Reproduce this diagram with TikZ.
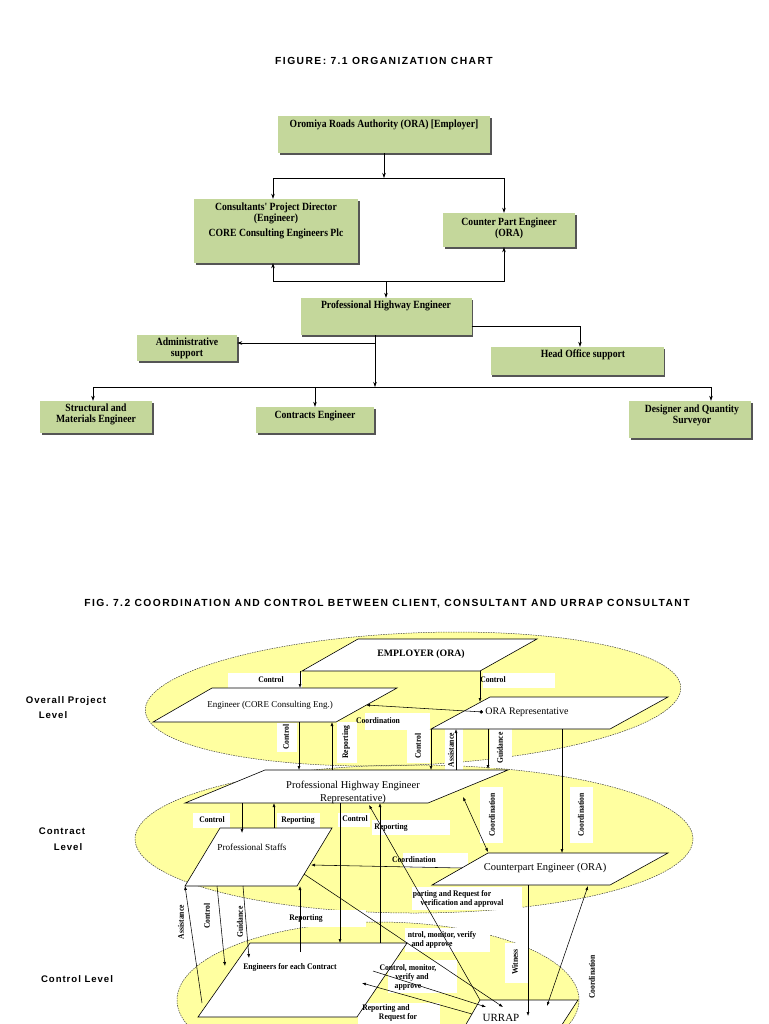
\documentclass[tikz,border=0pt]{standalone}
\usepackage{fontspec}
\setmainfont{Liberation Serif}
\newfontfamily\serifc[FakeStretch=0.88]{Liberation Serif}
\newfontfamily\seriflab[FakeStretch=0.9]{Liberation Serif}
\newfontfamily\serifn{Liberation Serif}
\newfontfamily\titlefont[LetterSpace=14]{Liberation Sans}
\newfontfamily\lvlfont[LetterSpace=10]{Liberation Sans}
\usetikzlibrary{arrows.meta,shadows}
\definecolor{boxgreen}{RGB}{196,215,155}
\definecolor{ellyellow}{RGB}{255,255,160}
\definecolor{shadowc}{RGB}{85,85,85}
\tikzset{
  gbox/.style={fill=boxgreen, draw=none, inner sep=0pt,
    drop shadow={shadow xshift=1.6pt, shadow yshift=-1.6pt, fill=shadowc, opacity=1}},
  ctext/.style={font=\serifc\bfseries\fontsize{11}{11}\selectfont, align=center, inner sep=0pt},
  ttl/.style={font=\titlefont\bfseries\fontsize{10.3}{12}\selectfont, inner sep=0pt},
  lvl/.style={font=\lvlfont\bfseries\fontsize{9.6}{15.5}\selectfont, inner sep=0pt, align=center},
  arr/.style={-{Stealth[length=5pt,width=3.5pt]}, line width=0.6pt},
  ar/.style={-{Latex[length=4pt,width=3pt]}, line width=0.55pt},
  dar/.style={{Latex[length=4pt,width=3pt]}-{Latex[length=4pt,width=3pt]}, line width=0.55pt},
  lbl/.style={font=\seriflab\bfseries\fontsize{8.5}{9}\selectfont, inner sep=0pt},
  vlbl/.style={lbl, rotate=90},
  para/.style={fill=white, draw=black, line width=0.6pt},
  ptext/.style={font=\serifn\fontsize{10}{12}\selectfont, inner sep=0pt, align=center},
  ell/.style={fill=ellyellow},
  elline/.style={draw=black!75, line width=0.5pt, dash pattern=on 1.5pt off 1pt},
}
\begin{document}
\begin{tikzpicture}[x=1pt,y=-1pt]
\useasboundingbox (0,0) rectangle (768,1024);
\fill[white] (0,0) rectangle (768,1024);
\clip (0,0) rectangle (768,1024);

%% ================= FIGURE 7.1 =================
\node[ttl] (t1) at (384,61) {FIGURE: 7.1 ORGANIZATION CHART};

\node[gbox, minimum width=212pt, minimum height=37pt] (ora) at (384,134.5) {};
\node[gbox, minimum width=164pt, minimum height=64pt] (cons) at (276,231) {};
\node[gbox, minimum width=132pt, minimum height=34pt] (cpe) at (509,230) {};
\node[gbox, minimum width=171pt, minimum height=37pt] (phe) at (386,316.5) {};
\node[gbox, minimum width=173pt, minimum height=28pt] (ho) at (577,361) {};
\node[gbox, minimum width=100pt, minimum height=26pt] (adm) at (187,348) {};
\node[gbox, minimum width=112pt, minimum height=32pt] (str) at (96,417) {};
\node[gbox, minimum width=118pt, minimum height=26pt] (con) at (315,420) {};
\node[gbox, minimum width=122pt, minimum height=37pt] (des) at (690,419.5) {};

\node[ctext] (oraT) at (384,125) {Oromiya Roads Authority (ORA) [Employer]};
\node[ctext] (consT) at (276,213.5) {Consultants' Project Director\\(Engineer)};
\node[ctext] (consT2) at (276,234) {CORE Consulting Engineers Plc};
\node[ctext] (cpeT) at (509,228) {Counter Part Engineer\\(ORA)};
\node[ctext] (pheT) at (386,306) {Professional Highway Engineer};
\node[ctext] (hoT) at (583,355) {Head Office support};
\node[ctext] (admT) at (187,348) {Administrative\\support};
\node[ctext] (strT) at (96,414.5) {Structural and\\Materials Engineer};
\node[ctext] (conT) at (315,416) {Contracts Engineer};
\node[ctext] (desT) at (692,415.5) {Designer and Quantity\\Surveyor};

\coordinate (j1) at (384,178);
\coordinate (j2) at (386,281);
\coordinate (j3) at (375,387);
\coordinate (j4) at (375,343);
\draw[arr] (ora.south) -- (j1);
\draw[arr] (j1) -| ([xshift=-3pt]cons.north);
\draw[arr] (j1) -| ([xshift=-5pt]cpe.north);
\draw[arr] (j2) -- (phe.north);
\draw[arr] (j2) -| ([xshift=-3pt]cons.south);
\draw[arr] (j2) -| ([xshift=-5pt]cpe.south);
\draw[arr] ([yshift=-10pt]phe.east) -| ([xshift=3pt]ho.north);
\draw[arr] ([xshift=-11pt]phe.south) -- (j3);
\draw[arr] (j4) -- (adm.east |- j4);
\draw[line width=0.6pt] ([xshift=-3pt]str.north |- j3) -- ([xshift=21pt]des.north |- j3);
\draw[arr] ([xshift=-3pt]str.north |- j3) -- ([xshift=-3pt]str.north);
\draw[arr] (con.north |- j3) -- (con.north);
\draw[arr] ([xshift=21pt]des.north |- j3) -- ([xshift=21pt]des.north);

%% ================= FIGURE 7.2 =================
\node[ttl] (t2) at (387,604) {FIG. 7.2 COORDINATION AND CONTROL BETWEEN CLIENT, CONSULTANT AND URRAP CONSULTANT};

\node[lvl] (lv1) at (66,707.5) {Overall Project\\\hspace*{-26pt}Level};
\node[lvl] (lv2) at (62,839) {Contract\\\hspace*{12pt}Level};
\node[lvl] (lv3) at (77,979) {Control Level};

% ellipses
\fill[ell, rotate around={2.5:(413,699)}] (413,699) ellipse [x radius=268pt, y radius=66pt];
\fill[ell] (414,839) ellipse [x radius=279pt, y radius=74pt];
\fill[ell] (378,1000) ellipse [x radius=201pt, y radius=78pt];
\draw[elline, rotate around={2.5:(413,699)}] (413,699) ellipse [x radius=268pt, y radius=66pt];
\draw[elline] (414,839) ellipse [x radius=279pt, y radius=74pt];
\draw[elline] (378,1000) ellipse [x radius=201pt, y radius=78pt];

% white label boxes
\fill[white] (228,673) rectangle (302,688);
\fill[white] (483,673) rectangle (555,688);
\fill[white] (365,713) rectangle (430,730);
\fill[white] (407,730) rectangle (430,763);
\fill[white] (277,723) rectangle (297,752);
\fill[white] (337,722) rectangle (357,763);
\fill[white] (445,729) rectangle (463,771);
\fill[white] (490,729) rectangle (512,768);
\fill[white] (193,813) rectangle (230,828);
\fill[white] (277,813) rectangle (320,828);
\fill[white] (338,813) rectangle (370,827);
\fill[white] (372,820) rectangle (450,835);
\fill[white] (480,787) rectangle (503,843);
\fill[white] (570,787) rectangle (593,843);
\fill[white] (403,853) rectangle (468,868);
\fill[white] (412,887) rectangle (522,910);
\fill[white] (285,910) rectangle (366,927);
\fill[white] (405,928) rectangle (490,952);
\fill[white] (388,960) rectangle (457,993);
\fill[white] (358,1003) rectangle (440,1024);
\fill[white] (505,943) rectangle (528,983);

% parallelograms
\draw[para] (302,671) -- (480,671) -- (537,639) -- (358,639) -- cycle;
\draw[para] (153,722) -- (336,722) -- (397,688) -- (212,688) -- cycle;
\draw[para] (431,729) -- (610,729) -- (668,697) -- (490,697) -- cycle;
\draw[para] (185,803) -- (428,803) -- (508,770) -- (265,770) -- cycle;
\draw[para] (432,885) -- (610,885) -- (668,853) -- (488,853) -- cycle;
\draw[para] (185,886) -- (297,886) -- (332,828) -- (220,828) -- cycle;
\draw[para] (198,1017) -- (357,1017) -- (407,943) -- (250,943) -- cycle;
\draw[para] (457,1040) -- (552,1040) -- (578,1000) -- (480,1000) -- cycle;

% parallelogram texts
\node[ptext, font=\serifn\bfseries\fontsize{9.8}{11}\selectfont] (empT) at (421,654) {EMPLOYER (ORA)};
\node[ptext, font=\serifn\fontsize{9}{11}\selectfont] (engT) at (270,705) {Engineer (CORE Consulting Eng.)};
\node[ptext] (orarT) at (527,712) {ORA Representative};
\node[ptext, font=\serifn\fontsize{10.5}{13}\selectfont] (pheT2) at (353,792.5) {Professional Highway Engineer\\Representative)};
\node[ptext, font=\serifn\fontsize{10.5}{12}\selectfont] (cpeT2) at (545,868) {Counterpart Engineer (ORA)};
\node[ptext, font=\serifn\fontsize{9.2}{11}\selectfont] (psT) at (252,847) {Professional Staffs};
\node[ptext, font=\seriflab\bfseries\fontsize{8.6}{10}\selectfont] (efcT) at (290,967) {Engineers for each Contract};
\node[ptext, font=\serifn\fontsize{11}{13}\selectfont] (urT) at (501,1018) {URRAP};

% connector end points
\coordinate (c1a) at (300,671); \coordinate (c1b) at (300,688);
\coordinate (c2a) at (480,671); \coordinate (c2b) at (480,702);
\coordinate (c3a) at (483,712); \coordinate (c3b) at (366,705);
\coordinate (c4a) at (299,722); \coordinate (c4b) at (299,770);
\coordinate (c5a) at (332,770); \coordinate (c5b) at (332,722);
\coordinate (c6a) at (431,729); \coordinate (c6b) at (431,770);
\coordinate (c7a) at (456,770); \coordinate (c7b) at (456,729);
\coordinate (c8a) at (488,729); \coordinate (c8b) at (488,769);
\coordinate (c9a) at (562,729); \coordinate (c9b) at (562,853);
\coordinate (c10a) at (463,797); \coordinate (c10b) at (488,852);
\coordinate (c11a) at (242,803); \coordinate (c11b) at (242,833);
\coordinate (c12a) at (274,828); \coordinate (c12b) at (274,803);
\coordinate (c13a) at (340,803); \coordinate (c13b) at (340,943);
\coordinate (c14a) at (380,943); \coordinate (c14b) at (380,803);
\coordinate (c15a) at (480,1000); \coordinate (c15b) at (369,805);
\coordinate (c16a) at (462,868); \coordinate (c16b) at (311,865);
\coordinate (c17a) at (304,874); \coordinate (c17b) at (503,1007);
\coordinate (c18a) at (202,1003); \coordinate (c18b) at (185,886);
\coordinate (c19a) at (217,886); \coordinate (c19b) at (225,966);
\coordinate (c20a) at (243,886); \coordinate (c20b) at (249,958);
\coordinate (c21a) at (300,952); \coordinate (c21b) at (300,886);
\coordinate (c22a) at (373,971); \coordinate (c22b) at (486,1007);
\coordinate (c23a) at (472,1014); \coordinate (c23b) at (362,983);
\coordinate (c24a) at (528,885); \coordinate (c24b) at (528,1016);
\coordinate (c25a) at (588,886); \coordinate (c25b) at (547,1006);

\draw[ar] (c1a) -- (c1b);
\draw[ar] (c2a) -- (c2b);
\draw[{Circle[length=3.5pt]}-{Latex[length=4pt,width=3pt]}, line width=0.55pt] (c3a) -- (c3b);
\draw[ar] (c4a) -- (c4b);
\draw[ar] (c5a) -- (c5b);
\draw[ar] (c6a) -- (c6b);
\draw[ar] (c7a) -- (c7b);
\draw[ar] (c8a) -- (c8b);
\draw[ar] (c9a) -- (c9b);
\draw[dar] (c10a) -- (c10b);
\draw[ar] (c11a) -- (c11b);
\draw[ar] (c12a) -- (c12b);
\draw[ar] (c13a) -- (c13b);
\draw[ar] (c14a) -- (c14b);
\draw[ar] (c15a) -- (c15b);
\draw[ar] (c16a) -- (c16b);
\draw[ar] (c17a) -- (c17b);
\draw[ar] (c18a) -- (c18b);
\draw[ar] (c19a) -- (c19b);
\draw[ar] (c20a) -- (c20b);
\draw[ar] (c21a) -- (c21b);
\draw[ar] (c22a) -- (c22b);
\draw[ar] (c23a) -- (c23b);
\draw[ar] (c24a) -- (c24b);
\draw[dar] (c25a) -- (c25b);

% labels
\node[lbl] (l1) at (271,680) {Control};
\node[lbl] (l2) at (493,680) {Control};
\node[lbl] (l3) at (378,721) {Coordination};
\node[vlbl] (l4) at (418,746) {Control};
\node[vlbl] (l5) at (286,737) {Control};
\node[vlbl] (l6) at (346,742) {Reporting};
\node[vlbl] (l7) at (451,750) {Assistance};
\node[vlbl] (l8) at (500,748) {Guidance};
\node[lbl] (l9) at (212,820) {Control};
\node[lbl] (l10) at (298,820) {Reporting};
\node[lbl] (l11) at (355,819) {Control};
\node[lbl] (l12) at (391,827) {Reporting};
\node[vlbl] (l13) at (492,815) {Coordination};
\node[vlbl] (l14) at (581,815) {Coordination};
\node[lbl] (l15) at (414,860) {Coordination};
\node[lbl] (l16) at (452,894) {porting and Request for};
\node[lbl] (l16b) at (462,903) {verification and approval};
\node[lbl] (l17) at (306,918) {Reporting};
\node[lbl] (l18) at (442,935) {ntrol, monitor, verify};
\node[lbl] (l18b) at (432,944) {and approve};
\node[lbl] (l19) at (408,968) {Control, monitor,};
\node[lbl] (l19b) at (412,977.5) {verify and};
\node[lbl] (l19c) at (408,987) {approve};
\node[lbl] (l20) at (386,1008) {Reporting and};
\node[lbl] (l20b) at (398,1017.5) {Request for};
\node[vlbl] (l21) at (515,962) {Witness};
\node[vlbl] (l22) at (181,922) {Assistance};
\node[vlbl] (l23) at (207,916) {Control};
\node[vlbl] (l24) at (240,922) {Guidance};
\node[vlbl] (l25) at (592,977) {Coordination};
\end{tikzpicture}
\end{document}
